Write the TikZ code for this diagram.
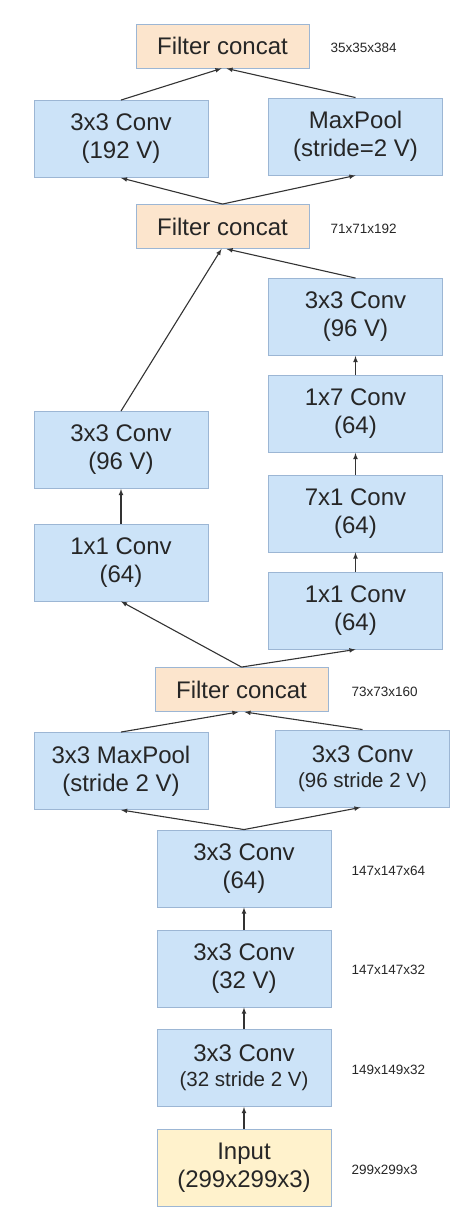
\documentclass[tikz,border=0pt]{standalone}
\usepackage{fontspec}
\setmainfont{Liberation Sans}
\definecolor{convblue}{HTML}{CCE3F8}
\definecolor{concatorange}{HTML}{FCE5CD}
\definecolor{inputyellow}{HTML}{FFF2CC}
\definecolor{edgeblue}{HTML}{9CB6D4}

\begin{document}
\begin{tikzpicture}[x=1pt,y=-1pt,>=latex,
	layer/.style = {fill=convblue,draw=edgeblue,line width=0.9pt,minimum width=174pt,minimum height=77pt,align=center,text=black!85,font=\fontsize{24}{28}\selectfont},
	concat/.style = {layer,fill=concatorange,minimum width=173pt,minimum height=44pt},
	dims/.style = {anchor=west,text=black!85,font=\fontsize{13.5}{16}\selectfont},
	flow/.style = {->,line width=1.1pt,black!80}]
	\useasboundingbox (0,0) rectangle (474,1216);

	\node[concat] (FA) at (222.5,46) {Filter concat};
	\node[layer] (CA) at (121,139) {3x3 Conv\\(192 V)};
	\node[layer] (PA) at (355.5,136.5) {MaxPool\\(stride=2 V)};
	\node[concat] (FB) at (222.5,226.5) {Filter concat};

	\node[layer] (R4) at (355.5,317) {3x3 Conv\\(96 V)};
	\node[layer] (R3) at (355.5,414) {1x7 Conv\\(64)};
	\node[layer] (R2) at (355.5,513.5) {7x1 Conv\\(64)};
	\node[layer] (R1) at (355.5,610.5) {1x1 Conv\\(64)};
	\node[layer] (L2) at (121,450) {3x3 Conv\\(96 V)};
	\node[layer] (L1) at (121,562.5) {1x1 Conv\\(64)};

	\node[concat] (FC) at (241.5,689.5) {Filter concat};
	\node[layer] (PB) at (121,771) {3x3 MaxPool\\(stride 2 V)};
	\node[layer] (CB) at (362.5,768.5) {3x3 Conv\\[-3pt]{\fontsize{20.5}{24}\selectfont(96 stride 2 V)}};

	\node[layer] (C3) at (244,868.5) {3x3 Conv\\(64)};
	\node[layer] (C2) at (244,968.5) {3x3 Conv\\(32 V)};
	\node[layer] (C1) at (244,1068) {3x3 Conv\\[-3pt]{\fontsize{20.5}{24}\selectfont(32 stride 2 V)}};
	\node[layer,fill=inputyellow] (IN) at (244,1167.5) {Input\\(299x299x3)};

	\node[dims] (dA) at (327,48) {35x35x384};
	\node[dims] (dB) at (327,229) {71x71x192};
	\node[dims] (dC) at (348,692) {73x73x160};
	\node[dims] (d3) at (348,871) {147x147x64};
	\node[dims] (d2) at (348,970) {147x147x32};
	\node[dims] (d1) at (348,1070) {149x149x32};
	\node[dims] (dI) at (348,1170) {299x299x3};

	\draw[flow] (IN) -- (C1);
	\draw[flow] (C1) -- (C2);
	\draw[flow] (C2) -- (C3);
	\draw[flow] (C3.north) -- (PB.south);
	\draw[flow] (C3.north) -- ([xshift=-2pt]CB.south);
	\draw[flow] (PB.north) -- ([xshift=-3pt]FC.south);
	\draw[flow] (CB.north) -- ([xshift=3pt]FC.south);
	\draw[flow] (FC.north) -- (L1.south);
	\draw[flow] (FC.north) -- (R1.south);
	\draw[flow] (L1) -- (L2);
	\draw[flow] (R1) -- (R2);
	\draw[flow] (R2) -- (R3);
	\draw[flow] (R3) -- (R4);
	\draw[flow] (L2.north) -- ([xshift=-1pt]FB.south);
	\draw[flow] (R4.north) -- ([xshift=4pt]FB.south);
	\draw[flow] (FB.north) -- (CA.south);
	\draw[flow] (FB.north) -- (PA.south);
	\draw[flow] (CA.north) -- ([xshift=-1pt]FA.south);
	\draw[flow] (PA.north) -- ([xshift=4pt]FA.south);
\end{tikzpicture}
\end{document}
